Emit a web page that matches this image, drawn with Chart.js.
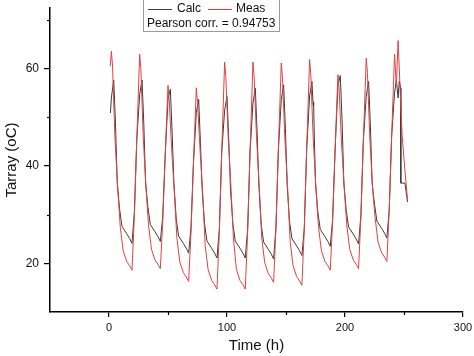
<!DOCTYPE html>
<html>
<head>
<meta charset="utf-8">
<script src="https://cdn.jsdelivr.net/npm/chart.js@4/dist/chart.umd.min.js"></script>
<style>
  html, body { margin: 0; padding: 0; background: #fff; }
  #wrap { width: 474px; height: 356px; position: relative; }
</style>
</head>
<body>
<div id="wrap"><canvas id="c" width="474" height="356"></canvas></div>
<script>
// ---- Data ----
const measTime = [1,2,3,5,7.5,9.5,12,15,17.5,19.5,21.5,23.5,
  26,27,29,31.5,33.5,36,39,41.5,43.5,45.5,47.5,
  50,51,53,55.5,57.5,60,63,65.5,67.5,69.5,71.5,
  74,75,77,79.5,81.5,84,87,89.5,91.5,93.5,95.5,
  98,99,101,103.5,105.5,108,111,113.5,115.5,117.5,119.5,
  122,123,125,127.5,129.5,132,135,137.5,139.5,141.5,143.5,
  146,147,149,151.5,153.5,156,159,161.5,163.5,165.5,167.5,
  170,171,173,175.5,177.5,180,183,185.5,187.5,189.5,191.5,
  194,195,197,199.5,201.5,204,207,209.5,211.5,213.5,215.5,
  218,219,221,223.5,225.5,228,231,233.5,235.5,237.5,239.5,
  242,243.5,245,246.5,248.5,250.5,253];
const measTemp = [60.5,63.6,60.6,46,35,27.6,22.6,20.4,19.5,18.6,29.7,45.2,
  63.0,60.0,46,35,27.9,22.9,20.7,19.8,18.9,28.3,41.5,
  56.6,53.6,44,34,25.3,20.3,18.1,17.2,16.3,26.2,40.2,
  56.1,53.1,44,34,23.7,18.7,16.5,15.6,14.7,26.4,42.7,
  61.4,58.4,46,35,25.0,18.7,16.5,15.6,14.7,26.4,42.7,
  61.4,58.4,46,35,25.1,20.1,17.9,17.0,16.1,27.4,43.2,
  61.2,58.2,46,35,24.5,19.5,17.3,16.4,15.5,27.1,43.3,
  61.9,58.9,46,35,27.6,22.6,20.4,19.5,18.6,28.7,42.7,
  58.8,55.8,45,35,27.9,22.9,20.7,19.8,18.9,29.7,44.9,
  62.2,59.2,46,35,29.4,24.4,22.2,21.3,20.4,31.1,46.0,
  63.0,56.5,65.8,57,46,40,33];

const calcTime = [1.2,2,4,5.5,7,9,11,15,17.5,19.5,21.5,23.5,
  26,28,29.5,31,33,35,39,41.5,43.5,45.5,47.5,
  50,52,53.5,55,57,59,63,65.5,67.5,69.5,71.5,
  74,76,77.5,79,81,83,87,89.5,91.5,93.5,95.5,
  98,100,101.5,103,105,107,111,113.5,115.5,117.5,119.5,
  122,124,125.5,127,129,131,135,137.5,139.5,141.5,143.5,
  146,148,149.5,151,153,155,159,161.5,163.5,165.5,167.5,
  170,172,173,173.4,174,175,177,179,183,185.5,187.5,189.5,191.5,
  194,196,197.5,199,201,203,207,209.5,211.5,213.5,215.5,
  218,220,221.5,223,225,227,231,233.5,235.5,237.5,239.5,
  242,243.5,245,246,247.2,247.3,250.8,253];
const calcTemp = [50.9,54,57.7,48.7,36.5,31.1,27.6,26.1,25.1,24.1,30.5,45.2,
  54.7,57.7,48.7,36.5,31.5,28,26.5,25.5,24.5,29.5,41.5,
  53.8,55.8,46.8,36.5,29.1,25.6,24.1,23.1,22.1,27.5,40.2,
  51,53.7,44.7,35,28.1,24.6,23.1,22.1,21.1,27,42.7,
  51.5,54.3,45.3,35,28.1,24.6,23.1,22.1,21.1,27,42.7,
  53,56,47,36,27.9,24.4,22.9,21.9,20.9,27.5,43.2,
  53.7,56.7,47.7,36,28.6,25.1,23.6,22.6,21.6,27.2,43.3,
  54.4,57.4,52.5,53.2,46,36.5,30.5,27,25.5,24.5,23.5,29,42.7,
  56.5,58.6,49.6,36.5,31,27.5,26,25,24,30,44.9,
  54.4,57.4,48.4,36.5,32.2,28.7,27.2,26.2,25.2,31.1,46.0,
  55,57.7,54,57.5,56,36.5,36.5,32.6];

const xMajorTicks = [0, 100, 200, 300];
const xMinorTicks = [50, 150, 250];
const yMajorTicks = [20, 40, 60];
const yMinorTicks = [30, 50, 70];
const seriesNames = ['Calc', 'Meas'];
const pearsonText = 'Pearson corr. = 0.94753';

const FONT = "'Liberation Sans', Arial, sans-serif";
const CALC_COLOR = '#3a3a3a';
const MEAS_COLOR = '#e04242';

const toPts = (xs, ys) => xs.map((x, i) => ({ x: x, y: ys[i] }));

const minorTicksPlugin = {
  id: 'minorTicks',
  afterDraw(chart) {
    const ctx = chart.ctx;
    const xs = chart.scales.x, ys = chart.scales.y;
    const area = chart.chartArea;
    ctx.save();
    ctx.strokeStyle = '#000';
    ctx.lineWidth = 1.2;
    xMinorTicks.forEach(v => {
      const px = Math.round(xs.getPixelForValue(v)) + 0.5;
      ctx.beginPath(); ctx.moveTo(px, area.bottom); ctx.lineTo(px, area.bottom + 3); ctx.stroke();
    });
    yMinorTicks.forEach(v => {
      const py = Math.round(ys.getPixelForValue(v)) + 0.5;
      ctx.beginPath(); ctx.moveTo(area.left - 3, py); ctx.lineTo(area.left, py); ctx.stroke();
    });
    ctx.restore();
  }
};

const legendBoxPlugin = {
  id: 'legendBox',
  afterDraw(chart) {
    const ctx = chart.ctx;
    ctx.save();
    ctx.fillStyle = '#fff';
    ctx.fillRect(143, -2, 137, 34);
    ctx.strokeStyle = '#9a9a9a';
    ctx.lineWidth = 1;
    ctx.strokeRect(143.5, -2, 136, 33.5);
    ctx.font = '12px ' + FONT;
    ctx.textBaseline = 'middle';
    ctx.fillStyle = '#111';
    ctx.strokeStyle = CALC_COLOR;
    ctx.beginPath(); ctx.moveTo(148, 9.5); ctx.lineTo(172, 9.5); ctx.stroke();
    ctx.fillText(seriesNames[0], 177, 9);
    ctx.strokeStyle = MEAS_COLOR;
    ctx.beginPath(); ctx.moveTo(208, 9.5); ctx.lineTo(232, 9.5); ctx.stroke();
    ctx.fillText(seriesNames[1], 236, 9);
    ctx.fillText(pearsonText, 147, 24);
    ctx.restore();
  }
};

new Chart(document.getElementById('c'), {
  type: 'line',
  data: {
    datasets: [
      { label: seriesNames[1], data: toPts(measTime, measTemp), borderColor: MEAS_COLOR, borderWidth: 1, pointRadius: 0, tension: 0, fill: false, order: 1 },
      { label: seriesNames[0], data: toPts(calcTime, calcTemp), borderColor: CALC_COLOR, borderWidth: 1, pointRadius: 0, tension: 0, fill: false, order: 2 }
    ]
  },
  options: {
    responsive: false,
    animation: false,
    devicePixelRatio: 1,
    layout: { padding: { top: 8, right: 11, bottom: 0, left: 0 } },
    plugins: { legend: { display: false }, tooltip: { enabled: false } },
    scales: {
      x: {
        type: 'linear', min: -50, max: 300,
        afterBuildTicks: s => { s.ticks = xMajorTicks.map(v => ({ value: v })); },
        afterFit: s => { s.height = 44; s.paddingLeft = 0; s.paddingRight = 0; },
        grid: { display: true, drawOnChartArea: false, drawTicks: true, tickLength: 5, color: '#000', lineWidth: 1.2 },
        border: { display: true, color: '#000', width: 1.5 },
        ticks: { font: { family: FONT, size: 11 }, color: '#111', padding: 4, maxRotation: 0, autoSkip: false },
        title: { display: true, text: 'Time (h)', font: { family: FONT, size: 15 }, color: '#111', padding: { top: 0, bottom: 1 } }
      },
      y: {
        type: 'linear', min: 10, max: 72.5,
        afterBuildTicks: s => { s.ticks = yMajorTicks.map(v => ({ value: v })); },
        afterFit: s => { s.width = 50; s.paddingTop = 0; s.paddingBottom = 0; },
        grid: { display: true, drawOnChartArea: false, drawTicks: true, tickLength: 6, color: '#000', lineWidth: 1.2 },
        border: { display: true, color: '#000', width: 1.5 },
        ticks: { font: { family: FONT, size: 12 }, color: '#111', padding: 5, autoSkip: false },
        title: { display: true, text: 'Tarray (oC)', font: { family: FONT, size: 15 }, color: '#111', padding: { top: 3, bottom: 0 } }
      }
    }
  },
  plugins: [minorTicksPlugin, legendBoxPlugin]
});
</script>
</body>
</html>
